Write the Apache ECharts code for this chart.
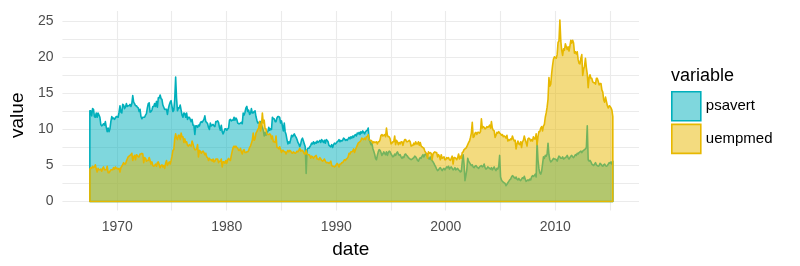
<!DOCTYPE html>
<html>
<head>
<meta charset="utf-8">
<script src="https://cdn.jsdelivr.net/npm/echarts@6/dist/echarts.min.js"></script>
<style>
html,body{margin:0;padding:0;background:#fff;}
#chart{width:800px;height:266px;}
</style>
</head>
<body>
<div id="chart"></div>
<script>
// Monthly series, starting July 1967, ending April 2015
const startYear = 1967;
const startMonth = 7;
const seriesNames = ['psavert', 'uempmed'];
const seriesColors = ['#00AFBB', '#E7B800'];
const yTickLabels = [0, 5, 10, 15, 20, 25];
const xTickLabels = [1970, 1980, 1990, 2000, 2010];

const psavert = [
  12.6,12.6,11.9,12.9,12.8,11.8,
  11.7,12.3,11.7,12.3,12.0,11.7,10.7,10.5,10.6,10.8,10.6,11.1,
  10.3,9.7,10.2,9.7,10.1,11.1,11.8,11.5,11.6,11.4,11.6,11.8,
  11.8,11.7,12.4,13.3,12.4,12.3,13.5,13.4,12.9,13.1,13.6,13.2,
  13.3,13.3,13.5,13.2,13.6,14.7,13.8,13.6,13.3,13.3,13.1,13.0,
  12.5,12.8,11.8,11.5,11.7,11.7,11.7,12.0,12.2,13.0,13.6,13.7,
  12.4,12.5,12.7,13.2,13.2,13.6,13.2,13.9,13.1,14.4,14.4,14.8,
  14.3,14.2,13.4,13.1,12.8,12.8,12.8,12.1,12.9,13.4,13.8,14.0,
  13.2,12.5,12.7,14.2,17.3,14.3,12.6,13.0,13.0,13.4,12.7,12.0,
  11.7,12.3,12.2,11.7,12.3,11.4,11.7,11.7,11.4,11.1,11.4,10.6,
  10.6,9.3,10.5,10.5,10.3,10.6,10.5,10.9,11.1,11.0,11.2,11.4,
  11.9,11.1,11.0,10.8,10.3,10.0,10.9,10.5,10.6,10.7,10.5,10.4,
  11.1,11.1,11.2,11.0,10.3,9.9,10.6,9.7,9.4,9.7,10.1,10.1,
  9.9,10.1,10.2,11.3,11.4,11.2,11.3,11.3,11.7,11.3,11.6,11.4,
  10.9,10.8,10.8,10.9,11.0,10.8,12.3,12.0,12.4,13.0,13.2,12.5,
  12.7,12.1,12.2,12.9,12.3,12.3,12.5,12.6,11.8,11.3,10.9,10.9,
  11.1,11.1,10.6,10.3,9.9,9.1,9.6,9.2,9.6,9.7,10.3,9.9,
  10.1,10.0,11.7,11.5,11.5,11.1,11.1,11.6,11.8,11.8,11.7,10.9,
  11.2,10.5,9.8,10.9,9.7,9.3,8.6,8.0,8.3,8.1,8.6,9.2,
  9.0,9.2,9.4,9.1,8.9,8.6,8.2,8.0,7.6,8.0,8.6,8.8,
  8.4,8.0,7.6,3.9,7.2,7.4,7.4,7.6,7.8,8.1,8.0,8.3,
  8.0,8.2,8.1,8.4,8.2,8.3,8.5,8.2,8.6,8.4,8.2,8.5,
  8.1,8.6,8.5,8.3,7.8,7.7,7.6,7.9,7.5,7.9,8.1,8.0,
  8.1,8.3,8.4,8.6,8.3,8.5,8.4,8.5,8.8,8.7,8.5,8.6,
  8.5,8.7,8.9,8.7,9.0,8.8,9.1,8.9,9.2,9.3,9.1,9.5,
  9.4,9.6,9.3,9.7,9.5,9.8,9.6,9.4,9.7,9.8,9.9,10.2,
  8.6,8.3,7.9,8.1,7.4,7.0,6.6,6.0,5.8,6.4,6.9,7.2,
  7.1,6.8,6.4,6.6,6.9,6.7,6.5,6.9,6.4,6.8,7.0,6.9,
  6.6,6.4,6.2,6.3,6.6,6.4,6.7,6.9,6.6,6.4,6.5,6.2,
  6.0,6.2,6.1,6.5,6.6,6.4,6.3,6.1,6.0,5.9,5.8,5.9,
  6.0,6.1,6.3,6.2,6.0,5.7,5.6,5.9,6.1,6.0,6.3,6.5,
  6.2,6.5,6.6,6.4,6.2,6.0,5.9,6.2,5.8,5.7,5.5,5.3,
  5.0,4.8,4.5,4.3,4.4,4.6,4.7,4.5,4.3,4.5,4.6,4.4,
  4.6,4.8,4.7,4.9,4.5,4.7,4.8,4.6,4.4,4.5,4.7,4.4,
  4.5,4.6,4.4,4.3,4.1,4.2,5.5,6.5,5.2,2.9,3.6,4.4,
  6.0,5.6,5.4,5.2,5.0,5.1,4.8,4.7,4.9,5.0,4.8,4.7,
  4.6,4.8,4.9,5.0,4.8,4.9,5.2,4.7,4.5,4.6,4.8,4.7,
  4.6,4.5,4.7,4.4,4.6,4.8,4.5,4.3,4.6,4.5,4.9,6.4,
  3.4,3.0,2.8,2.7,2.6,2.5,2.2,2.4,2.6,2.8,3.0,3.1,
  3.4,3.6,3.5,3.3,3.2,3.4,3.1,3.0,3.2,3.0,2.9,3.1,
  3.3,3.2,3.5,3.1,2.8,2.9,3.0,2.9,3.1,3.0,3.4,3.6,
  3.5,3.6,3.8,3.4,8.3,5.8,4.6,4.0,3.8,4.2,5.2,6.2,
  6.0,6.4,6.3,6.6,8.1,6.5,5.8,5.5,5.6,5.8,6.0,5.9,
  5.9,5.8,5.6,6.0,6.3,6.2,6.0,6.0,6.2,5.9,6.0,6.1,
  6.2,6.4,6.1,5.9,6.1,6.3,6.4,6.2,6.1,6.3,6.5,6.4,
  6.7,6.6,6.8,6.9,7.0,6.8,7.0,7.1,7.2,7.3,7.5,10.5,
  5.8,5.6,5.7,5.5,5.2,5.1,5.0,5.2,5.4,5.1,5.0,4.9,
  5.0,5.3,5.2,5.0,4.9,5.1,5.2,5.0,4.9,5.0,5.2,5.4,
  5.3,5.5,5.2,5.6
];

const uempmed = [
  4.5,4.7,4.6,4.9,4.7,4.8,
  5.1,4.5,4.1,4.6,4.4,4.4,4.5,4.2,4.6,4.8,4.4,4.4,
  4.4,4.9,4.0,4.0,4.2,4.4,4.4,4.4,4.7,4.5,4.8,4.6,
  4.6,4.5,4.6,4.1,4.7,4.9,5.1,5.4,5.2,5.2,5.6,5.9,
  6.2,6.3,6.4,6.5,6.7,5.7,6.2,6.4,5.8,6.5,6.4,6.2,
  6.2,6.6,6.6,6.7,6.6,5.4,6.1,6.0,5.6,5.7,5.7,6.1,
  5.7,5.2,5.5,5.0,4.9,5.0,5.2,4.9,5.4,5.5,5.1,4.7,
  5.0,5.1,4.8,5.0,4.6,5.3,5.7,5.0,5.3,5.5,5.2,5.7,
  6.3,7.1,7.2,8.7,9.4,8.8,8.6,9.2,9.2,8.6,9.5,9.0,
  9.0,8.2,8.7,8.2,8.3,7.8,7.7,7.9,7.8,7.7,8.4,8.0,
  7.5,7.2,7.2,7.3,7.9,6.2,7.1,7.0,6.7,6.9,7.0,6.8,
  6.5,6.7,6.2,6.1,5.7,6.0,5.8,5.8,5.6,5.9,5.5,5.6,
  5.9,5.9,5.9,5.4,5.6,5.6,5.9,4.8,5.5,5.5,5.3,5.7,
  5.3,5.8,6.0,5.8,5.7,6.4,7.0,7.5,7.7,7.5,7.7,7.5,
  7.4,7.1,7.1,7.4,6.9,6.6,7.1,7.2,6.8,6.8,6.9,6.9,
  7.1,7.5,7.7,8.1,8.5,9.5,8.5,8.7,9.5,9.7,10.0,10.2,
  11.1,9.8,10.4,12.3,10.9,11.3,10.1,10.1,9.4,9.3,9.3,9.4,
  9.3,8.7,9.1,8.3,8.3,8.2,9.1,7.5,7.5,7.3,7.6,7.2,
  6.8,7.1,7.1,6.9,6.9,6.6,6.9,7.1,6.9,7.1,7.0,6.8,
  6.7,6.9,6.8,6.7,6.8,7.0,6.9,7.1,7.4,7.0,7.1,7.1,
  6.9,6.6,6.6,7.1,6.6,6.5,6.5,6.4,6.0,6.3,6.2,6.0,
  6.2,6.3,6.4,5.9,5.9,5.8,6.1,5.9,5.7,5.6,5.7,5.9,
  5.6,5.4,5.4,5.4,5.3,5.4,5.6,5.0,4.9,4.9,4.8,4.9,
  5.1,5.3,5.1,4.8,5.2,5.2,5.4,5.4,5.6,5.8,5.7,5.9,
  6.0,6.2,6.7,6.6,6.9,6.9,7.0,7.3,6.8,7.2,7.5,7.8,
  8.1,8.2,8.3,8.5,8.8,8.7,8.6,8.8,8.6,9.0,9.0,9.3,
  8.6,8.5,8.5,8.4,8.1,8.3,8.2,8.2,8.3,8.0,8.3,8.3,
  8.6,9.2,9.3,9.1,9.2,9.3,9.0,10.2,9.2,9.0,9.0,8.7,
  8.0,8.1,8.3,8.3,9.1,7.9,8.5,8.3,7.9,8.2,8.0,8.3,
  8.3,7.8,8.3,8.6,8.6,8.3,8.3,8.4,8.5,8.3,7.7,7.8,
  7.8,8.1,7.9,8.3,8.0,8.0,8.3,7.8,8.2,7.7,7.6,7.5,
  7.4,7.0,6.8,6.7,6.0,6.9,6.7,6.8,6.7,5.8,6.6,6.8,
  6.9,6.8,6.8,6.2,6.5,6.3,5.8,6.5,6.0,6.1,6.2,5.8,
  5.8,6.1,6.0,6.1,5.8,5.7,6.0,6.3,5.2,6.1,6.1,6.0,
  5.8,6.1,6.6,5.9,6.3,6.0,6.8,6.9,7.2,7.3,7.4,7.6,
  7.9,8.2,8.4,8.9,9.5,11.0,8.9,9.0,9.5,9.6,9.3,9.6,
  9.6,9.5,9.7,11.5,10.2,10.4,10.3,10.1,10.2,10.4,10.3,10.4,
  10.6,10.2,11.1,10.2,9.9,9.8,8.9,9.2,9.6,9.5,9.7,9.5,
  9.4,9.2,9.3,9.0,9.1,9.0,8.8,9.2,8.4,8.6,8.5,8.7,
  8.6,9.1,8.7,8.4,8.5,7.3,8.0,8.4,8.0,7.9,8.3,7.5,
  8.3,8.5,9.1,8.6,8.2,7.7,8.7,8.8,8.7,8.4,8.6,8.4,
  9.0,8.7,8.7,9.4,7.9,9.0,9.7,9.7,10.2,10.4,9.8,10.5,
  10.7,11.7,12.3,13.1,14.2,17.2,16.0,16.3,17.8,18.9,19.8,20.1,
  20.0,19.9,20.4,22.1,22.3,25.2,22.3,21.0,20.3,21.2,21.0,21.9,
  21.5,21.1,21.5,20.9,21.6,22.4,22.0,22.4,22.0,20.6,20.8,20.5,
  20.8,19.7,19.2,19.1,19.9,20.4,17.5,18.4,18.8,19.9,18.6,17.7,
  15.8,17.2,17.6,17.1,17.1,16.6,16.5,16.5,16.3,17.1,17.1,16.7,
  16.2,16.4,16.4,15.5,15.2,14.1,13.8,14.5,13.9,13.3,13.0,13.3,
  13.2,13.0,12.7,11.8
];

function dateOf(i) {
  return startYear + (startMonth - 1 + i) / 12;
}

function hexToRgba(hex, a) {
  const n = parseInt(hex.slice(1), 16);
  return 'rgba(' + ((n >> 16) & 255) + ',' + ((n >> 8) & 255) + ',' + (n & 255) + ',' + a + ')';
}

function areaSeries(name, values, color) {
  const fill = hexToRgba(color, 0.5);
  return {
    type: 'custom',
    name: name,
    coordinateSystem: 'cartesian2d',
    xAxisIndex: 0,
    yAxisIndex: 0,
    clip: true,
    silent: true,
    itemStyle: { color: fill, borderColor: color },
    data: values.map(function (v, i) { return [dateOf(i), v]; }),
    encode: { x: 0, y: 1 },
    renderItem: function (params, api) {
      if (params.dataIndex !== 0) return null;
      const pts = values.map(function (v, i) { return api.coord([dateOf(i), v]); });
      pts.push(api.coord([dateOf(values.length - 1), 0]));
      pts.push(api.coord([dateOf(0), 0]));
      return {
        type: 'polygon',
        shape: { points: pts },
        style: { fill: fill, stroke: color, lineWidth: 1.6, lineJoin: 'round' }
      };
    }
  };
}

const chart = echarts.init(document.getElementById('chart'), null, { renderer: 'canvas' });
const font = '"Liberation Sans", Arial, Helvetica, sans-serif';

function isTick(v, list) {
  const r = Math.round(v);
  return Math.abs(v - r) < 1e-6 && list.indexOf(r) >= 0;
}

const xMin = 1965, xMax = 2017.64;
const gridLine = { color: '#ebebeb', width: 1.1 };

chart.setOption({
  animation: false,
  backgroundColor: '#ffffff',
  textStyle: { fontFamily: font },
  grid: [
    { left: 62, right: 161, top: 11, bottom: 46.5, containLabel: false },
    { left: 62, right: 161, top: 11, bottom: 55.5, containLabel: false }
  ],
  title: {
    text: 'variable',
    left: 671,
    top: 67,
    padding: 0,
    textStyle: { fontFamily: font, fontSize: 18, fontWeight: 'normal', color: '#000' }
  },
  legend: {
    orient: 'vertical',
    left: 671,
    top: 91,
    padding: 0,
    itemWidth: 29,
    itemHeight: 29,
    itemGap: 2,
    selectedMode: false,
    textStyle: { fontFamily: font, fontSize: 15, color: '#000' },
    data: seriesNames.map(function (n, k) {
      return {
        name: n,
        icon: 'rect',
        itemStyle: { color: hexToRgba(seriesColors[k], 0.5), borderColor: seriesColors[k], borderWidth: 1.6 }
      };
    })
  },
  xAxis: [
    {
      gridIndex: 0,
      type: 'value',
      min: xMin,
      max: xMax,
      interval: 5,
      name: 'date',
      nameLocation: 'middle',
      nameGap: 21,
      nameTextStyle: { fontFamily: font, fontSize: 19, color: '#000' },
      axisLine: { show: false },
      axisTick: { show: false },
      axisLabel: {
        margin: 1,
        fontFamily: font,
        fontSize: 14,
        color: '#4d4d4d',
        showMaxLabel: false,
        formatter: function (v) { return isTick(v, xTickLabels) ? String(Math.round(v)) : ''; }
      },
      splitLine: { show: false }
    },
    {
      gridIndex: 1,
      type: 'value',
      min: xMin,
      max: xMax,
      interval: 5,
      axisLine: { show: false },
      axisTick: { show: false },
      axisLabel: { show: false },
      splitLine: { show: true, showMinLine: false, showMaxLine: false, lineStyle: gridLine }
    }
  ],
  yAxis: [
    {
      gridIndex: 0,
      type: 'value',
      min: -2.5,
      max: 26.46,
      interval: 2.5,
      name: 'value',
      nameLocation: 'middle',
      nameGap: 32,
      nameTextStyle: { fontFamily: font, fontSize: 19, color: '#000' },
      axisLine: { show: false },
      axisTick: { show: false },
      axisLabel: {
        margin: 9,
        fontFamily: font,
        fontSize: 14,
        color: '#4d4d4d',
        showMaxLabel: false,
        showMinLabel: false,
        formatter: function (v) { return isTick(v, yTickLabels) ? String(Math.round(v)) : ''; }
      },
      splitLine: { show: true, showMinLine: false, showMaxLine: false, lineStyle: gridLine },
      z: 0
    },
    {
      gridIndex: 1,
      type: 'value',
      min: 0,
      max: 1,
      show: false
    }
  ],
  series: [
    areaSeries(seriesNames[0], psavert, seriesColors[0]),
    areaSeries(seriesNames[1], uempmed, seriesColors[1])
  ]
});
</script>
</body>
</html>
